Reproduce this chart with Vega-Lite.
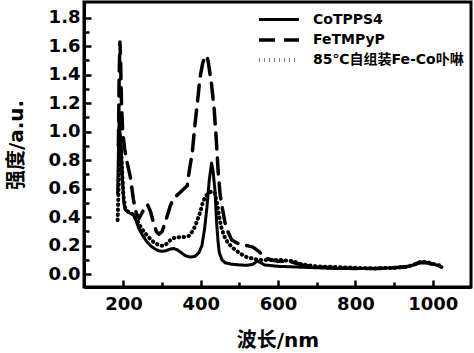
{
  "$schema": "https://vega.github.io/schema/vega-lite/v6.json",
  "width": 387,
  "height": 285,
  "autosize": "none",
  "padding": {"left": 84, "top": 2, "right": 3, "bottom": 66},
  "background": "white",
  "config": {
    "view": {"stroke": "black", "strokeWidth": 3},
    "font": "DejaVu Sans"
  },
  "datasets": {
    "spectra": [
      {"s": "CoTPPS4", "x": 185, "y": 0.57}, {"s": "CoTPPS4", "x": 187, "y": 0.85}, {"s": "CoTPPS4", "x": 189, "y": 1.12}, {"s": "CoTPPS4", "x": 191, "y": 1.0}, {"s": "CoTPPS4", "x": 193, "y": 0.95}, {"s": "CoTPPS4", "x": 195, "y": 0.85}, {"s": "CoTPPS4", "x": 198, "y": 0.65}, {"s": "CoTPPS4", "x": 201, "y": 0.5}, {"s": "CoTPPS4", "x": 205, "y": 0.45}, {"s": "CoTPPS4", "x": 215, "y": 0.43}, {"s": "CoTPPS4", "x": 225, "y": 0.42}, {"s": "CoTPPS4", "x": 232, "y": 0.38}, {"s": "CoTPPS4", "x": 240, "y": 0.32}, {"s": "CoTPPS4", "x": 250, "y": 0.27}, {"s": "CoTPPS4", "x": 260, "y": 0.23}, {"s": "CoTPPS4", "x": 270, "y": 0.2}, {"s": "CoTPPS4", "x": 280, "y": 0.18}, {"s": "CoTPPS4", "x": 290, "y": 0.165}, {"s": "CoTPPS4", "x": 300, "y": 0.16}, {"s": "CoTPPS4", "x": 310, "y": 0.165}, {"s": "CoTPPS4", "x": 320, "y": 0.175}, {"s": "CoTPPS4", "x": 330, "y": 0.18}, {"s": "CoTPPS4", "x": 340, "y": 0.17}, {"s": "CoTPPS4", "x": 350, "y": 0.15}, {"s": "CoTPPS4", "x": 360, "y": 0.13}, {"s": "CoTPPS4", "x": 372, "y": 0.12}, {"s": "CoTPPS4", "x": 385, "y": 0.125}, {"s": "CoTPPS4", "x": 395, "y": 0.15}, {"s": "CoTPPS4", "x": 403, "y": 0.2}, {"s": "CoTPPS4", "x": 410, "y": 0.32}, {"s": "CoTPPS4", "x": 416, "y": 0.47}, {"s": "CoTPPS4", "x": 422, "y": 0.66}, {"s": "CoTPPS4", "x": 428, "y": 0.78}, {"s": "CoTPPS4", "x": 432, "y": 0.72}, {"s": "CoTPPS4", "x": 437, "y": 0.58}, {"s": "CoTPPS4", "x": 441, "y": 0.36}, {"s": "CoTPPS4", "x": 445, "y": 0.22}, {"s": "CoTPPS4", "x": 448, "y": 0.15}, {"s": "CoTPPS4", "x": 455, "y": 0.1}, {"s": "CoTPPS4", "x": 463, "y": 0.08}, {"s": "CoTPPS4", "x": 480, "y": 0.07}, {"s": "CoTPPS4", "x": 500, "y": 0.065}, {"s": "CoTPPS4", "x": 520, "y": 0.062}, {"s": "CoTPPS4", "x": 535, "y": 0.07}, {"s": "CoTPPS4", "x": 545, "y": 0.09}, {"s": "CoTPPS4", "x": 552, "y": 0.085}, {"s": "CoTPPS4", "x": 565, "y": 0.065}, {"s": "CoTPPS4", "x": 600, "y": 0.055}, {"s": "CoTPPS4", "x": 650, "y": 0.05}, {"s": "CoTPPS4", "x": 700, "y": 0.045}, {"s": "CoTPPS4", "x": 750, "y": 0.04}, {"s": "CoTPPS4", "x": 800, "y": 0.04}, {"s": "CoTPPS4", "x": 850, "y": 0.04}, {"s": "CoTPPS4", "x": 900, "y": 0.045}, {"s": "CoTPPS4", "x": 930, "y": 0.05}, {"s": "CoTPPS4", "x": 950, "y": 0.065}, {"s": "CoTPPS4", "x": 965, "y": 0.085}, {"s": "CoTPPS4", "x": 980, "y": 0.085}, {"s": "CoTPPS4", "x": 1000, "y": 0.07}, {"s": "CoTPPS4", "x": 1015, "y": 0.06}, {"s": "CoTPPS4", "x": 1023, "y": 0.05},
      {"s": "FeTMPyP", "x": 187, "y": 0.9}, {"s": "FeTMPyP", "x": 189, "y": 1.4}, {"s": "FeTMPyP", "x": 191, "y": 1.63}, {"s": "FeTMPyP", "x": 193, "y": 1.45}, {"s": "FeTMPyP", "x": 195, "y": 1.2}, {"s": "FeTMPyP", "x": 198, "y": 1.0}, {"s": "FeTMPyP", "x": 203, "y": 0.88}, {"s": "FeTMPyP", "x": 210, "y": 0.78}, {"s": "FeTMPyP", "x": 218, "y": 0.68}, {"s": "FeTMPyP", "x": 226, "y": 0.52}, {"s": "FeTMPyP", "x": 233, "y": 0.43}, {"s": "FeTMPyP", "x": 240, "y": 0.39}, {"s": "FeTMPyP", "x": 250, "y": 0.44}, {"s": "FeTMPyP", "x": 262, "y": 0.49}, {"s": "FeTMPyP", "x": 270, "y": 0.44}, {"s": "FeTMPyP", "x": 278, "y": 0.36}, {"s": "FeTMPyP", "x": 285, "y": 0.3}, {"s": "FeTMPyP", "x": 292, "y": 0.28}, {"s": "FeTMPyP", "x": 300, "y": 0.3}, {"s": "FeTMPyP", "x": 310, "y": 0.38}, {"s": "FeTMPyP", "x": 320, "y": 0.47}, {"s": "FeTMPyP", "x": 329, "y": 0.53}, {"s": "FeTMPyP", "x": 345, "y": 0.57}, {"s": "FeTMPyP", "x": 365, "y": 0.62}, {"s": "FeTMPyP", "x": 370, "y": 0.72}, {"s": "FeTMPyP", "x": 378, "y": 0.85}, {"s": "FeTMPyP", "x": 385, "y": 1.05}, {"s": "FeTMPyP", "x": 392, "y": 1.22}, {"s": "FeTMPyP", "x": 398, "y": 1.38}, {"s": "FeTMPyP", "x": 405, "y": 1.48}, {"s": "FeTMPyP", "x": 411, "y": 1.53}, {"s": "FeTMPyP", "x": 416, "y": 1.53}, {"s": "FeTMPyP", "x": 420, "y": 1.48}, {"s": "FeTMPyP", "x": 428, "y": 1.33}, {"s": "FeTMPyP", "x": 435, "y": 1.15}, {"s": "FeTMPyP", "x": 440, "y": 0.95}, {"s": "FeTMPyP", "x": 445, "y": 0.72}, {"s": "FeTMPyP", "x": 450, "y": 0.56}, {"s": "FeTMPyP", "x": 456, "y": 0.46}, {"s": "FeTMPyP", "x": 465, "y": 0.33}, {"s": "FeTMPyP", "x": 480, "y": 0.24}, {"s": "FeTMPyP", "x": 500, "y": 0.21}, {"s": "FeTMPyP", "x": 520, "y": 0.2}, {"s": "FeTMPyP", "x": 535, "y": 0.19}, {"s": "FeTMPyP", "x": 550, "y": 0.16}, {"s": "FeTMPyP", "x": 570, "y": 0.11}, {"s": "FeTMPyP", "x": 600, "y": 0.09}, {"s": "FeTMPyP", "x": 630, "y": 0.09}, {"s": "FeTMPyP", "x": 660, "y": 0.065}, {"s": "FeTMPyP", "x": 700, "y": 0.05}, {"s": "FeTMPyP", "x": 750, "y": 0.045}, {"s": "FeTMPyP", "x": 800, "y": 0.04}, {"s": "FeTMPyP", "x": 850, "y": 0.04}, {"s": "FeTMPyP", "x": 900, "y": 0.045}, {"s": "FeTMPyP", "x": 940, "y": 0.055}, {"s": "FeTMPyP", "x": 965, "y": 0.08}, {"s": "FeTMPyP", "x": 985, "y": 0.08}, {"s": "FeTMPyP", "x": 1005, "y": 0.065}, {"s": "FeTMPyP", "x": 1023, "y": 0.05},
      {"s": "85℃自组装Fe-Co卟啉", "x": 185, "y": 0.38}, {"s": "85℃自组装Fe-Co卟啉", "x": 188, "y": 0.65}, {"s": "85℃自组装Fe-Co卟啉", "x": 190, "y": 0.95}, {"s": "85℃自组装Fe-Co卟啉", "x": 193, "y": 0.9}, {"s": "85℃自组装Fe-Co卟啉", "x": 196, "y": 0.75}, {"s": "85℃自组装Fe-Co卟啉", "x": 200, "y": 0.55}, {"s": "85℃自组装Fe-Co卟啉", "x": 205, "y": 0.46}, {"s": "85℃自组装Fe-Co卟啉", "x": 215, "y": 0.43}, {"s": "85℃自组装Fe-Co卟啉", "x": 225, "y": 0.42}, {"s": "85℃自组装Fe-Co卟啉", "x": 235, "y": 0.38}, {"s": "85℃自组装Fe-Co卟啉", "x": 245, "y": 0.33}, {"s": "85℃自组装Fe-Co卟啉", "x": 255, "y": 0.29}, {"s": "85℃自组装Fe-Co卟啉", "x": 265, "y": 0.26}, {"s": "85℃自组装Fe-Co卟啉", "x": 280, "y": 0.22}, {"s": "85℃自组装Fe-Co卟啉", "x": 295, "y": 0.2}, {"s": "85℃自组装Fe-Co卟啉", "x": 305, "y": 0.2}, {"s": "85℃自组装Fe-Co卟啉", "x": 315, "y": 0.22}, {"s": "85℃自组装Fe-Co卟啉", "x": 325, "y": 0.25}, {"s": "85℃自组装Fe-Co卟啉", "x": 340, "y": 0.26}, {"s": "85℃自组装Fe-Co卟啉", "x": 355, "y": 0.26}, {"s": "85℃自组装Fe-Co卟啉", "x": 370, "y": 0.27}, {"s": "85℃自组装Fe-Co卟啉", "x": 381, "y": 0.31}, {"s": "85℃自组装Fe-Co卟啉", "x": 390, "y": 0.37}, {"s": "85℃自组装Fe-Co卟啉", "x": 398, "y": 0.43}, {"s": "85℃自组装Fe-Co卟啉", "x": 405, "y": 0.5}, {"s": "85℃自组装Fe-Co卟啉", "x": 411, "y": 0.54}, {"s": "85℃自组装Fe-Co卟啉", "x": 420, "y": 0.57}, {"s": "85℃自组装Fe-Co卟啉", "x": 428, "y": 0.58}, {"s": "85℃自组装Fe-Co卟啉", "x": 436, "y": 0.57}, {"s": "85℃自组装Fe-Co卟啉", "x": 442, "y": 0.5}, {"s": "85℃自组装Fe-Co卟啉", "x": 447, "y": 0.42}, {"s": "85℃自组装Fe-Co卟啉", "x": 452, "y": 0.34}, {"s": "85℃自组装Fe-Co卟啉", "x": 460, "y": 0.27}, {"s": "85℃自组装Fe-Co卟啉", "x": 470, "y": 0.22}, {"s": "85℃自组装Fe-Co卟啉", "x": 489, "y": 0.17}, {"s": "85℃自组装Fe-Co卟啉", "x": 505, "y": 0.14}, {"s": "85℃自组装Fe-Co卟啉", "x": 519, "y": 0.12}, {"s": "85℃自组装Fe-Co卟啉", "x": 548, "y": 0.1}, {"s": "85℃自组装Fe-Co卟啉", "x": 575, "y": 0.1}, {"s": "85℃自组装Fe-Co卟啉", "x": 606, "y": 0.1}, {"s": "85℃自组装Fe-Co卟啉", "x": 640, "y": 0.09}, {"s": "85℃自组装Fe-Co卟啉", "x": 660, "y": 0.07}, {"s": "85℃自组装Fe-Co卟啉", "x": 700, "y": 0.055}, {"s": "85℃自组装Fe-Co卟啉", "x": 750, "y": 0.05}, {"s": "85℃自组装Fe-Co卟啉", "x": 800, "y": 0.045}, {"s": "85℃自组装Fe-Co卟啉", "x": 850, "y": 0.04}, {"s": "85℃自组装Fe-Co卟啉", "x": 900, "y": 0.045}, {"s": "85℃自组装Fe-Co卟啉", "x": 930, "y": 0.05}, {"s": "85℃自组装Fe-Co卟啉", "x": 950, "y": 0.065}, {"s": "85℃自组装Fe-Co卟啉", "x": 967, "y": 0.085}, {"s": "85℃自组装Fe-Co卟啉", "x": 985, "y": 0.085}, {"s": "85℃自组装Fe-Co卟啉", "x": 1005, "y": 0.07}, {"s": "85℃自组装Fe-Co卟啉", "x": 1020, "y": 0.06}
    ]
  },
  "data": {"name": "spectra"},
  "mark": {"type": "line", "color": "black", "strokeCap": "round", "strokeJoin": "round", "clip": true},
  "encoding": {
    "x": {
      "field": "x", "type": "quantitative",
      "scale": {"domain": [98, 1099], "nice": false, "zero": false},
      "axis": {
        "title": "波长/nm",
        "values": [200, 300, 400, 500, 600, 700, 800, 900, 1000],
        "labelExpr": "datum.value % 200 === 0 ? format(datum.value, 'd') : ''",
        "grid": false,
        "domainColor": "black", "domainWidth": 3,
        "tickColor": "black", "tickWidth": 2.5,
        "tickSize": {"condition": {"test": "datum.value % 200 === 0", "value": -7}, "value": -5},
        "labelPadding": 15,
        "labelFont": "DejaVu Sans", "labelFontWeight": "bold", "labelFontSize": 18, "labelColor": "black",
        "titleFont": "DejaVu Sans, Noto Sans CJK SC", "titleFontWeight": "bold", "titleFontSize": 20, "titleColor": "black",
        "titlePadding": 17
      }
    },
    "y": {
      "field": "y", "type": "quantitative",
      "scale": {"domain": [-0.09, 1.91], "nice": false, "zero": false},
      "axis": {
        "title": "强度/a.u.",
        "values": [0, 0.1, 0.2, 0.3, 0.4, 0.5, 0.6, 0.7, 0.8, 0.9, 1.0, 1.1, 1.2, 1.3, 1.4, 1.5, 1.6, 1.7, 1.8],
        "labelExpr": "round(datum.value * 10) % 2 === 0 ? format(datum.value, '.1f') : ''",
        "grid": false,
        "domainColor": "black", "domainWidth": 3,
        "tickColor": "black", "tickWidth": 2.5,
        "tickSize": {"condition": {"test": "round(datum.value * 10) % 2 === 0", "value": -7}, "value": -5},
        "labelPadding": 11,
        "labelFont": "DejaVu Sans", "labelFontWeight": "bold", "labelFontSize": 18, "labelColor": "black",
        "titleFont": "DejaVu Sans, Noto Sans CJK SC", "titleFontWeight": "bold", "titleFontSize": 20, "titleColor": "black",
        "titlePadding": 22
      }
    },
    "strokeDash": {
      "field": "s", "type": "nominal",
      "scale": {"domain": ["CoTPPS4", "FeTMPyP", "85℃自组装Fe-Co卟啉"], "range": [[1, 0], [16, 9], [0.5, 4.5]]},
      "legend": {
        "title": null, "orient": "none", "legendX": 173, "legendY": 6,
        "symbolType": "M-2,0H2", "symbolSize": 400, "symbolOffset": 10, "symbolStrokeColor": "black", "symbolStrokeWidth": 3,
        "labelFont": "DejaVu Sans, Noto Sans CJK SC", "labelFontWeight": "bold", "labelFontSize": 14, "labelColor": "black",
        "labelOffset": 22, "rowPadding": 1
      }
    },
    "strokeWidth": {
      "field": "s", "type": "nominal",
      "scale": {"domain": ["CoTPPS4", "FeTMPyP", "85℃自组装Fe-Co卟啉"], "range": [3, 4, 3.2]},
      "legend": null
    },
    "order": {"field": "x", "type": "quantitative"}
  }
}
